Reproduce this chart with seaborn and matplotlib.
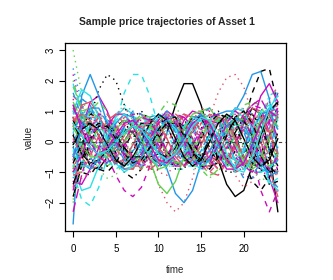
import numpy as np
import pandas as pd
import seaborn as sns
import matplotlib
matplotlib.use("Agg")
import matplotlib.pyplot as plt

# time grid of the trajectories
time = list(range(25))

# sample trajectories (values read by eye at t = 0..24)
p00 = [0.8, -0.2, -0.8, -0.9, -0.5, 0.1, 0.4, 0.3, -0.1, -0.5, -0.4, 0.3, 1.2, 1.9, 1.9, 1.2, 0.2, -0.5, -0.6, -0.1, 0.6, 1.1, 0.9, -0.3, -2.3]
p01 = [1.5, 1.2, 0.5, -0.2, -0.6, -0.5, 0.0, 0.6, 0.9, 0.7, 0.1, -0.5, -0.8, -0.6, 0.0, 0.6, 0.9, 0.6, 0.0, -0.6, -0.9, -0.6, 0.2, 0.9, 1.3]
p02 = [3.0, 1.6, 0.4, -0.3, -0.4, 0.0, 0.5, 0.8, 0.6, 0.1, -0.4, -0.6, -0.3, 0.2, 0.6, 0.7, 0.3, -0.3, -0.7, -0.6, -0.1, 0.6, 1.0, 0.7, -0.2]
p03 = [-1.2, -0.3, 0.5, 0.9, 0.8, 0.3, -0.3, -0.7, -0.7, -0.3, 0.3, 0.8, 0.9, 0.5, -0.1, -0.7, -0.9, -0.6, 0.0, 0.7, 1.1, 0.9, 0.1, -0.9, -1.6]
p04 = [0.3, 0.9, 1.1, 0.8, 0.2, -0.5, -0.9, -0.8, -0.3, 0.3, 0.8, 0.9, 0.5, -0.1, -0.6, -0.8, -0.5, 0.1, 0.7, 1.0, 0.8, 0.1, -0.8, -1.4, -1.2]
p05 = [-0.6, 0.4, 1.3, 1.5, 1.0, 0.2, -0.5, -0.8, -0.5, 0.1, 0.7, 1.0, 0.8, 0.2, -0.4, -0.7, -0.5, 0.1, 0.7, 1.1, 1.0, 0.5, -0.3, -1.2, -2.0]
p06 = [-0.4, -1.0, -1.1, -0.7, -0.1, 0.5, 0.7, 0.5, 0.0, -0.5, -0.7, -0.5, 0.0, 0.5, 0.7, 0.4, -0.2, -0.7, -0.8, -0.3, 0.6, 1.6, 2.3, 2.4, 1.2]
p07 = [1.0, 0.2, -0.4, -0.5, -0.1, 0.5, 0.9, 0.8, 0.2, -0.6, -1.4, -2.0, -2.3, -2.0, -1.2, -0.2, 0.8, 1.6, 2.1, 2.2, 1.8, 0.9, -0.2, -1.0, -1.1]
p08 = [-2.0, -0.6, 0.3, 0.6, 0.4, -0.1, -0.6, -0.8, -0.5, 0.2, 0.9, 1.3, 1.2, 0.6, -0.2, -0.9, -1.2, -0.9, -0.2, 0.6, 1.2, 1.3, 0.8, 0.0, -0.6]
p09 = [0.9, 1.4, 1.2, 0.5, -0.3, -0.8, -0.8, -0.3, 0.3, 0.8, 0.9, 0.5, -0.1, -0.6, -0.7, -0.3, 0.3, 0.7, 0.7, 0.2, -0.5, -1.0, -1.0, -0.3, 0.8]
p10 = [-0.8, -1.6, -1.5, -0.8, 0.1, 0.8, 1.1, 0.9, 0.3, -0.3, -0.7, -0.7, -0.3, 0.2, 0.6, 0.7, 0.4, -0.1, -0.5, -0.6, -0.2, 0.4, 0.9, 1.1, 0.7]
p11 = [0.4, 0.6, 0.5, 0.1, -0.5, -1.1, -1.6, -1.8, -1.5, -0.8, 0.0, 0.6, 0.9, 0.8, 0.4, -0.1, -0.5, -0.6, -0.3, 0.2, 0.4, -0.4, -1.6, -2.3, -1.6]
p12 = [-1.0, -0.2, 0.8, 1.7, 2.2, 2.0, 1.2, 0.3, -0.5, -0.9, -0.9, -0.5, 0.1, 0.6, 0.8, 0.5, 0.0, -0.6, -1.0, -1.0, -0.5, 0.3, 1.0, 1.3, 0.9]
p13 = [0.1, -0.5, -0.9, -0.8, -0.3, 0.3, 0.8, 0.9, 0.5, -0.1, -0.6, -0.8, -0.5, 0.1, 0.6, 0.8, 0.6, 0.0, -0.6, -1.0, -0.9, -0.2, 0.7, 1.4, 1.8]
p14 = [1.8, 1.1, 0.2, -0.5, -0.8, -0.6, 0.0, 0.6, 0.9, 0.8, 0.3, -0.3, -0.7, -0.8, -0.4, 0.2, 0.7, 0.9, 0.6, 0.0, -0.6, -0.9, -0.7, 0.0, 0.9]
p15 = [-2.7, 1.5, 2.2, 1.5, 0.6, -0.1, -0.4, -0.3, 0.0, 0.1, -0.2, -0.9, -1.7, -2.0, -1.6, -0.7, 0.3, 0.9, 1.0, 1.0, 1.5, 2.2, 2.3, 1.4, -0.4]
p16 = [-1.0, -1.9, -2.1, -1.5, -0.5, 0.6, 1.6, 2.2, 2.2, 1.5, 0.5, -0.4, -0.9, -0.9, -0.5, 0.1, 0.6, 0.7, 0.4, -0.1, -0.6, -0.7, -0.4, 0.2, 0.7]
p17 = [2.2, 1.0, 0.0, -0.6, -0.7, -0.3, 0.3, 0.7, 0.7, 0.3, -0.3, -0.7, -0.7, -0.3, 0.3, 0.8, 1.0, 0.7, 0.1, -0.6, -1.1, -1.2, -0.7, 0.2, 1.1]
p18 = [-0.2, 0.5, 0.9, 0.8, 0.3, -0.4, -1.0, -1.2, -0.9, -0.3, 0.3, 0.6, 0.5, 0.1, -0.3, -0.5, -0.3, 0.2, 0.7, 0.9, 0.6, -0.1, -0.9, -1.4, -1.3]
p19 = [-1.5, -0.4, 0.4, 0.8, 0.7, 0.2, -0.4, -0.8, -0.8, -0.4, 0.2, 0.7, 0.9, 0.7, 0.1, -0.5, -1.0, -1.1, -0.7, 0.0, 0.7, 1.1, 1.0, 0.3, -0.6]
p20 = [0.6, 0.9, 0.7, 0.2, -0.2, -0.3, 0.0, 0.3, 0.1, -0.6, -1.4, -1.7, -1.3, -0.5, 0.4, 1.0, 1.1, 0.7, 0.0, -0.6, -0.8, -0.5, 0.2, 0.8, 1.0]
p21 = [1.2, 0.3, -0.5, -0.9, -0.7, -0.1, 0.6, 1.0, 0.9, 0.4, -0.2, -0.6, -0.6, -0.2, 0.4, 0.9, 1.1, 0.8, 0.1, -0.7, -1.2, -1.2, -0.6, 0.4, 1.5]
p22 = [-0.3, -0.9, -1.0, -0.5, 0.2, 0.9, 1.2, 1.0, 0.4, -0.3, -0.8, -0.9, -0.6, 0.0, 0.6, 0.9, 0.8, 0.3, -0.3, -0.7, -0.7, -0.2, 0.5, 1.0, 1.1]
p23 = [1.4, 0.5, -0.3, -0.7, -0.6, -0.1, 0.5, 0.9, 0.9, 0.5, -0.1, -0.6, -0.8, -0.6, -0.1, 0.4, 0.7, 0.6, 0.2, -0.4, -0.8, -0.8, -0.3, 0.6, 1.6]
p24 = [-1.8, -0.8, 0.0, 0.5, 0.6, 0.3, -0.2, -0.6, -0.7, -0.4, 0.1, 0.5, 0.7, 0.5, 0.0, -0.5, -0.8, -0.7, -0.3, 0.3, 0.8, 0.9, 0.5, -0.2, -0.8]
p25 = [0.5, 1.2, 1.3, 0.9, 0.2, -0.5, -0.9, -0.9, -0.5, 0.1, 0.6, 0.9, 0.7, 0.2, -0.4, -0.8, -0.8, -0.4, 0.2, 0.8, 1.0, 0.7, 0.0, -0.9, -1.8]
p26 = [-0.9, 0.2, 1.0, 1.3, 1.0, 0.3, -0.4, -0.9, -0.9, -0.5, 0.1, 0.6, 0.8, 0.5, -0.1, -0.7, -1.1, -1.0, -0.5, 0.2, 0.9, 1.3, 1.2, 0.5, -0.5]
p27 = [2.4, 1.3, 0.4, -0.2, -0.4, -0.2, 0.2, 0.5, 0.5, 0.2, -0.3, -0.7, -0.8, -0.5, 0.0, 0.5, 0.8, 0.7, 0.3, -0.3, -0.8, -1.0, -0.8, -0.2, 0.6]
p28 = [0.0, -0.6, -0.8, -0.6, -0.1, 0.4, 0.7, 0.7, 0.3, -0.2, -0.5, -0.5, -0.2, 0.3, 0.7, 0.8, 0.5, -0.1, -0.7, -1.0, -0.8, -0.1, 0.8, 1.5, 1.7]
p29 = [-2.3, -1.1, -0.1, 0.5, 0.7, 0.5, 0.0, -0.5, -0.8, -0.7, -0.3, 0.3, 0.7, 0.8, 0.5, -0.1, -0.6, -0.9, -0.7, -0.1, 0.6, 1.2, 1.4, 0.9, 0.1]
p30 = [0.2, -0.4, -0.7, -0.6, -0.3, 0.0, 0.3, 0.5, 0.4, 0.0, -0.4, -0.5, -0.2, 0.4, 0.8, 0.8, 0.2, -0.6, -1.4, -1.8, -1.6, -0.8, 0.2, 1.0, 1.3]
p31 = [-0.5, 0.3, 0.8, 0.8, 0.4, -0.2, -0.7, -0.9, -0.6, 0.0, 0.6, 0.9, 0.8, 0.3, -0.3, -0.8, -1.0, -0.7, -0.1, 0.5, 0.9, 0.8, 0.2, -0.5, -1.1]
p32 = [1.1, 0.4, -0.3, -0.9, -1.2, -1.1, -0.6, 0.0, 0.5, 0.7, 0.5, 0.1, -0.4, -0.7, -0.6, -0.2, 0.4, 0.8, 0.9, 0.5, -0.2, -0.9, -1.3, -1.1, -0.3]
p33 = [-0.1, 0.7, 1.0, 0.8, 0.2, -0.4, -0.8, -0.7, -0.3, 0.3, 0.8, 1.0, 0.7, 0.1, -0.5, -0.8, -0.7, -0.2, 0.4, 0.8, 0.8, 0.3, -0.5, -1.2, -1.5]
p34 = [1.9, 0.9, 0.0, -0.5, -0.5, -0.1, 0.4, 0.7, 0.6, 0.1, -0.4, -0.8, -0.8, -0.4, 0.2, 0.7, 0.9, 0.6, 0.0, -0.6, -0.9, -0.7, 0.0, 0.9, 1.7]
p35 = [-1.3, -1.4, -0.9, -0.2, 0.5, 0.9, 0.9, 0.5, -0.1, -0.6, -0.8, -0.5, 0.1, 0.7, 1.0, 0.9, 0.3, -0.4, -0.9, -0.9, -0.3, 0.6, 1.5, 1.9, 1.3]
p36 = [0.7, 0.1, -0.5, -0.9, -1.0, -0.7, -0.2, 0.3, 0.6, 0.6, 0.2, -0.3, -0.7, -0.8, -0.5, 0.1, 0.6, 0.9, 0.8, 0.2, -0.6, -1.3, -1.6, -1.2, -0.2]
p37 = [-0.7, -1.2, -1.0, -0.4, 0.3, 0.9, 1.1, 0.8, 0.2, -0.5, -1.0, -1.1, -0.7, 0.0, 0.7, 1.1, 1.0, 0.4, -0.4, -1.1, -1.5, -1.3, -0.6, 0.4, 1.2]
p38 = [0.4, 1.0, 1.1, 0.7, 0.0, -0.6, -0.8, -0.6, -0.1, 0.5, 0.8, 0.7, 0.2, -0.4, -0.8, -0.8, -0.3, 0.3, 0.8, 0.9, 0.5, -0.2, -0.8, -0.9, -0.4]
p39 = [-0.4, -0.1, 0.3, 0.5, 0.4, 0.0, -0.4, -0.6, -0.4, 0.0, 0.4, 0.6, 0.4, 0.0, -0.4, -0.5, -0.3, 0.1, 0.5, 0.6, 0.3, -0.3, -0.9, -1.0, -0.4]
p40 = [1.0, 1.7, 1.5, 0.8, 0.0, -0.7, -1.0, -0.8, -0.2, 0.4, 0.8, 0.8, 0.4, -0.2, -0.7, -0.9, -0.6, 0.0, 0.7, 1.1, 1.0, 0.4, -0.5, -1.3, -1.6]
p41 = [-1.6, -0.5, 0.4, 0.9, 0.9, 0.5, -0.1, -0.6, -0.8, -0.5, 0.0, 0.5, 0.7, 0.6, 0.1, -0.4, -0.7, -0.6, -0.2, 0.4, 0.9, 1.2, 1.1, 0.3, -1.0]
p42 = [0.6, 0.0, -0.6, -0.9, -0.8, -0.3, 0.3, 0.8, 1.0, 0.7, 0.1, -0.5, -0.9, -0.9, -0.4, 0.2, 0.8, 1.0, 0.7, 0.1, -0.5, -0.8, -0.6, 0.1, 0.8]
p43 = [-0.9, -0.2, 0.4, 0.8, 0.9, 0.6, 0.0, -0.6, -0.9, -0.8, -0.3, 0.3, 0.8, 0.9, 0.6, 0.0, -0.6, -0.9, -0.7, -0.1, 0.5, 0.9, 0.8, 0.2, -0.5]
p44 = [1.3, 0.7, 0.1, -0.3, -0.4, -0.2, 0.2, 0.6, 0.8, 0.6, 0.1, -0.4, -0.7, -0.6, -0.2, 0.3, 0.7, 0.8, 0.4, -0.2, -0.7, -0.9, -0.6, 0.1, 0.9]
p45 = [-0.2, -0.7, -0.9, -0.6, 0.0, 0.6, 0.9, 0.8, 0.3, -0.3, -0.7, -0.8, -0.4, 0.2, 0.7, 0.9, 0.6, 0.0, -0.6, -0.9, -0.7, -0.1, 0.6, 1.1, 1.0]
p46 = [0.9, 1.0, 0.6, 0.0, -0.6, -0.9, -0.7, -0.1, 0.5, 0.9, 0.8, 0.3, -0.3, -0.8, -0.8, -0.4, 0.2, 0.7, 0.9, 0.6, 0.0, -0.6, -1.0, -0.9, -0.3]
p47 = [-0.5, 0.2, 0.7, 0.7, 0.3, -0.2, -0.6, -0.6, -0.2, 0.3, 0.7, 0.7, 0.3, -0.2, -0.6, -0.7, -0.3, 0.3, 0.8, 0.9, 0.5, -0.2, -0.9, -1.2, -0.8]
p48 = [0.2, 0.6, 0.6, 0.2, -0.3, -0.7, -0.7, -0.3, 0.2, 0.7, 0.8, 0.5, -0.1, -0.6, -0.8, -0.5, 0.1, 0.6, 0.8, 0.5, -0.1, -0.7, -0.9, -0.5, 0.3]
p49 = [-1.1, -1.0, -0.5, 0.2, 0.7, 0.9, 0.6, 0.0, -0.6, -0.9, -0.7, -0.1, 0.5, 0.9, 0.8, 0.3, -0.3, -0.7, -0.7, -0.2, 0.4, 0.8, 0.8, 0.3, -0.4]
p50 = [0.5, -0.1, -0.5, -0.5, -0.1, 0.4, 0.7, 0.6, 0.1, -0.5, -0.9, -0.8, -0.3, 0.4, 0.9, 1.0, 0.6, -0.1, -0.7, -0.9, -0.6, 0.1, 0.7, 0.9, 0.5]
p51 = [1.6, 0.8, 0.0, -0.4, -0.3, 0.1, 0.5, 0.7, 0.4, -0.1, -0.6, -0.8, -0.5, 0.1, 0.6, 0.8, 0.5, -0.1, -0.6, -0.8, -0.4, 0.3, 0.9, 1.0, 0.4]
p52 = [-0.3, 0.3, 0.6, 0.5, 0.0, -0.5, -0.8, -0.6, -0.1, 0.5, 0.9, 0.9, 0.4, -0.3, -0.9, -1.0, -0.6, 0.1, 0.7, 1.0, 0.8, 0.1, -0.7, -1.1, -0.9]
p53 = [0.0, 0.3, 0.2, -0.1, -0.4, -0.4, -0.1, 0.3, 0.6, 0.6, 0.2, -0.3, -0.6, -0.5, -0.1, 0.4, 0.7, 0.6, 0.1, -0.5, -0.8, -0.6, 0.0, 0.7, 1.1]
p54 = [-1.4, -0.6, 0.1, 0.5, 0.5, 0.2, -0.2, -0.5, -0.5, -0.2, 0.3, 0.6, 0.6, 0.2, -0.3, -0.6, -0.6, -0.2, 0.3, 0.7, 0.7, 0.2, -0.5, -1.0, -0.9]
p55 = [0.7, 0.9, 0.7, 0.2, -0.4, -0.7, -0.6, -0.1, 0.4, 0.7, 0.6, 0.1, -0.5, -0.8, -0.6, -0.1, 0.5, 0.8, 0.7, 0.1, -0.5, -0.8, -0.5, 0.2, 0.9]
p56 = [-0.6, -0.3, 0.1, 0.4, 0.4, 0.1, -0.3, -0.6, -0.5, -0.1, 0.4, 0.7, 0.6, 0.1, -0.5, -0.8, -0.7, -0.2, 0.4, 0.8, 0.7, 0.2, -0.4, -0.8, -0.6]
p57 = [0.3, -0.3, -0.7, -0.7, -0.3, 0.2, 0.6, 0.7, 0.4, -0.1, -0.5, -0.6, -0.3, 0.2, 0.6, 0.7, 0.3, -0.3, -0.7, -0.7, -0.3, 0.3, 0.8, 0.9, 0.4]
p58 = [-0.8, 0.0, 0.6, 0.9, 0.7, 0.2, -0.4, -0.8, -0.8, -0.3, 0.3, 0.8, 0.8, 0.4, -0.2, -0.6, -0.6, -0.2, 0.3, 0.6, 0.5, 0.0, -0.6, -0.9, -0.5]
p59 = [1.1, 0.6, 0.0, -0.5, -0.7, -0.5, 0.0, 0.5, 0.8, 0.7, 0.2, -0.4, -0.8, -0.8, -0.3, 0.3, 0.8, 0.9, 0.5, -0.2, -0.8, -1.0, -0.6, 0.2, 1.0]
p60 = [-0.1, 0.4, 0.6, 0.4, -0.1, -0.6, -0.8, -0.5, 0.0, 0.6, 0.9, 0.7, 0.1, -0.5, -0.8, -0.6, 0.0, 0.6, 0.9, 0.7, 0.1, -0.5, -0.8, -0.6, 0.1]
p61 = [0.8, 0.3, -0.2, -0.5, -0.5, -0.2, 0.2, 0.5, 0.5, 0.2, -0.2, -0.5, -0.5, -0.1, 0.4, 0.7, 0.7, 0.3, -0.3, -0.7, -0.8, -0.4, 0.3, 0.9, 1.2]
p62 = [-1.9, -0.9, -0.1, 0.4, 0.6, 0.4, 0.0, -0.4, -0.6, -0.4, 0.0, 0.5, 0.7, 0.6, 0.1, -0.4, -0.7, -0.6, -0.2, 0.4, 0.8, 0.8, 0.3, -0.4, -1.0]
p63 = [0.4, 0.8, 0.8, 0.4, -0.2, -0.7, -0.9, -0.6, 0.0, 0.6, 0.9, 0.8, 0.3, -0.3, -0.7, -0.7, -0.3, 0.3, 0.7, 0.8, 0.4, -0.2, -0.8, -1.0, -0.6]
p64 = [-0.4, -0.8, -0.8, -0.4, 0.2, 0.7, 0.9, 0.6, 0.0, -0.5, -0.8, -0.6, -0.1, 0.5, 0.8, 0.7, 0.2, -0.4, -0.8, -0.8, -0.3, 0.4, 1.0, 1.2, 0.8]
p65 = [1.2, 0.4, -0.2, -0.4, -0.2, 0.2, 0.6, 0.7, 0.4, -0.1, -0.6, -0.7, -0.4, 0.1, 0.6, 0.8, 0.6, 0.0, -0.6, -0.9, -0.7, -0.1, 0.6, 1.0, 0.8]
p66 = [-0.7, -0.1, 0.4, 0.6, 0.5, 0.1, -0.4, -0.7, -0.6, -0.2, 0.4, 0.8, 0.8, 0.3, -0.3, -0.8, -0.9, -0.5, 0.2, 0.8, 1.0, 0.6, -0.1, -0.8, -1.1]
p67 = [0.1, -0.2, -0.4, -0.3, 0.0, 0.4, 0.6, 0.5, 0.1, -0.4, -0.7, -0.6, -0.1, 0.4, 0.7, 0.6, 0.2, -0.3, -0.6, -0.5, -0.1, 0.4, 0.7, 0.6, 0.1]
p68 = [2.0, 1.0, 0.2, -0.3, -0.5, -0.4, 0.0, 0.4, 0.6, 0.5, 0.1, -0.4, -0.7, -0.7, -0.3, 0.2, 0.6, 0.7, 0.4, -0.1, -0.6, -0.8, -0.5, 0.2, 0.9]
p69 = [-0.5, 0.5, 1.1, 1.1, 0.6, -0.1, -0.6, -0.8, -0.5, 0.0, 0.5, 0.7, 0.5, 0.0, -0.5, -0.8, -0.6, -0.1, 0.5, 0.8, 0.6, 0.0, -0.7, -1.1, -1.0]
p70 = [0.6, 0.2, -0.2, -0.4, -0.3, 0.0, 0.3, 0.5, 0.4, 0.0, -0.4, -0.6, -0.4, 0.0, 0.5, 0.8, 0.7, 0.2, -0.4, -0.9, -1.0, -0.5, 0.3, 1.1, 1.5]
p71 = [-1.0, -0.4, 0.2, 0.5, 0.4, 0.0, -0.4, -0.6, -0.4, 0.1, 0.6, 0.8, 0.6, 0.0, -0.6, -0.9, -0.7, -0.1, 0.6, 1.0, 0.8, 0.1, -0.6, -0.9, -0.5]

paths = [p00, p01, p02, p03, p04, p05, p06, p07, p08, p09, p10, p11, p12, p13,
         p14, p15, p16, p17, p18, p19, p20, p21, p22, p23, p24, p25, p26, p27,
         p28, p29, p30, p31, p32, p33, p34, p35, p36, p37, p38, p39, p40, p41,
         p42, p43, p44, p45, p46, p47, p48, p49, p50, p51, p52, p53, p54, p55,
         p56, p57, p58, p59, p60, p61, p62, p63, p64, p65, p66, p67, p68, p69,
         p70, p71]

# long table for seaborn
rows = []
for i, p in enumerate(paths):
    for t, v in zip(time, p):
        rows.append({"time": t, "value": v, "series": "s%02d" % i})
df = pd.DataFrame(rows)
names = ["s%02d" % i for i in range(len(paths))]

# R matplot style: colours 1:6, line types 1:5 recycled
r_cols = ["black", "#DF536B", "#61D04F", "#2297E6", "#28E2E5", "#CD0BBC"]
r_ltys = ["", (4, 4), (1, 3), (1, 3, 4, 3), (7, 3)]
pal = [r_cols[i % 6] for i in range(len(paths))]
dsh = [r_ltys[i % 5] for i in range(len(paths))]

sns.set_style("white")
plt.rcParams["font.family"] = ["Liberation Sans", "DejaVu Sans"]

fig = plt.figure(figsize=(3.33, 2.8), dpi=100)
ax = fig.add_axes([0.195, 0.175, 0.664, 0.671])

sns.lineplot(data=df, x="time", y="value", hue="series", style="series",
             hue_order=names, style_order=names, palette=pal, dashes=dsh,
             estimator=None, sort=False, legend=False, linewidth=1.0, ax=ax)

ax.axhline(0, color="#444444", linestyle=(0, (3, 3)), linewidth=0.8)

# R style 4% padding
vals = df["value"].to_numpy()
ypad = 0.04 * (vals.max() - vals.min())
ax.set_xlim(-0.04 * 24, 24 + 0.04 * 24)
ax.set_ylim(vals.min() - ypad, vals.max() + ypad)

ax.set_xticks([0, 5, 10, 15, 20])
ax.set_yticks([-2, -1, 0, 1, 2, 3])
for s in ax.spines.values():
    s.set_visible(True)
    s.set_color("black")
    s.set_linewidth(0.9)
ax.tick_params(axis="both", direction="out", length=4, width=0.8,
               labelsize=7, colors="black", bottom=True, left=True)
ax.tick_params(axis="x", pad=5)
ax.tick_params(axis="y", pad=3)
for lab in ax.get_yticklabels():
    lab.set_rotation(90)
    lab.set_va("center")

ax.set_xlabel("time", fontsize=7, labelpad=8)
ax.set_ylabel("value", fontsize=7, labelpad=8)
fig.suptitle("Sample price trajectories of Asset 1", fontsize=7.5,
             fontweight="bold", y=0.94)

fig.savefig("out.png", dpi=100)
